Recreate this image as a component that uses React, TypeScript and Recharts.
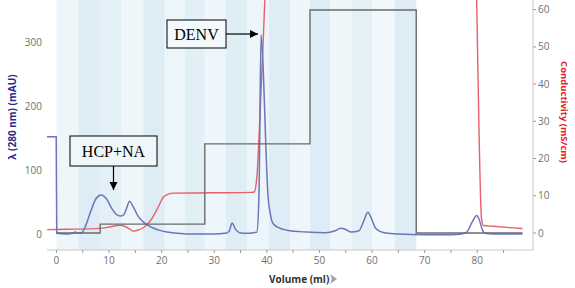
import React from 'react';
import { ComposedChart, Line, XAxis, YAxis, ReferenceArea } from 'recharts';

// UV trace at 280 nm (mAU) against elution volume (ml)
const uvVolume = [
  -1.8, -0.05, 0.05, 2, 3, 3.6, 4.2, 4.8, 5.5, 6.5, 7.5, 8.5, 9.5, 10.5, 11.5, 12.3, 12.8,
  13.4, 13.9, 14.5, 15.5, 16.5, 17.5, 18.5, 19.5, 21, 23, 25, 28, 30, 32, 32.8, 33.4, 34,
  34.8, 36, 37.5, 38.1, 38.5, 38.9, 39.3, 39.8, 40.2, 40.7, 41.2, 42.5, 43.8, 47.6, 51, 53,
  54, 55, 56, 57.5, 58.5, 59.2, 59.8, 60.6, 61.5, 63, 65, 70, 75, 77, 78, 79, 79.9, 80.4,
  81, 81.5, 83, 88.6,
];
const uvMau = [
  152, 152, 1, 0, 1, 3, 1, 2, 12, 35, 55, 61, 55, 40, 30, 28, 30,
  42, 51, 44, 28, 19, 13, 9, 6, 3, 1, 0, 0, 0, 1, 4, 17, 8,
  2, 1, 2, 3, 60, 311, 260, 140, 62, 30, 16, 9, 6, 3, 2, 5,
  9, 7, 3, 5, 22, 34, 26, 10, 4, 1, 0, -1, -1, 0, 3, 18, 29, 22,
  6, 1, 0, 0,
];

// Conductivity (mS/cm)
const condVolume = [
  -1.8, 2, 6, 8.5, 10, 12, 13, 14, 14.6, 15.5, 16.5, 17.3, 18.3, 19, 19.7, 20.3, 21.2,
  22.2, 30, 37, 37.6, 37.9, 38.2, 38.45, 38.8, 39.2, 39.6, 40, 41, 79.5, 79.9, 80.3, 80.8,
  81.2, 83, 88.6,
];
const condMs = [
  0.9, 1, 1.1, 1.3, 1.6, 2.1, 1.8, 1, 0.5, 0.8, 1.4, 2.4, 4.2, 6, 8, 9.6, 10.4,
  10.7, 10.8, 10.9, 11, 12.5, 17, 24, 35, 48, 62, 75, 90, 90, 62, 30, 4,
  2, 1.8, 1.2,
];

// Step gradient, % buffer B
const gradVolume = [0, 8.3, 28.2, 48.2, 68.4, 88.6];
const gradPercentB = [0, 4, 40, 100, 0, 0];

// Fraction bands behind the traces
const fractionEdges = [
  0, 4.2, 8.3, 12.4, 16.5, 20.6, 24.4, 28.2, 32.2, 36.3, 40.4, 44.4, 48.2, 52.1, 56.2, 60.1,
  64.3, 68.4,
];
const fractionShade = [
  '#eef6fa', '#deedf5', '#e3f0f6', '#eef6fa', '#deedf5', '#ecf5f9', '#e1eff6', '#edf6fa',
  '#dfeef5', '#ecf5fa', '#deedf5', '#eef6fa', '#deedf5', '#eef6fa', '#e3f0f6', '#f1f8fb',
  '#deedf5',
];

const volumeTicks = [0, 5, 10, 15, 20, 25, 30, 35, 40, 45, 50, 55, 60, 65, 70, 75, 80, 85];
const uvTicks = [0, 50, 100, 150, 200, 250, 300, 350];
const condTicks = [0, 5, 10, 15, 20, 25, 30, 35, 40, 45, 50, 55, 60];

const pairs = (xs: number[], ys: number[]) => xs.map((x, i) => ({ x, y: ys[i] }));
const uvData = pairs(uvVolume, uvMau);
const condData = pairs(condVolume, condMs);
const gradData = pairs(gradVolume, gradPercentB);

const tickFont = { fontFamily: 'Open Sans, sans-serif', fontSize: 10, fill: '#707070' };

// volume ticks: label every 10 ml, minor ticks in between stay bare
const VolumeTick = (props: any) => {
  const { x, y, payload } = props;
  if (payload.value % 10 !== 0) return <g />;
  return (
    <text x={x} y={y} dy="0.71em" textAnchor="middle" {...tickFont}>
      {payload.value}
    </text>
  );
};

// y ticks are placed from the axis side, labels only on major steps
const sideTick = (step: number, textX: number, anchor: 'start' | 'end') => (props: any) => {
  const { y, payload } = props;
  if (payload.value % step !== 0) return <g />;
  return (
    <text x={textX} y={y} dy="0.355em" textAnchor={anchor} {...tickFont}>
      {payload.value}
    </text>
  );
};

export default function App() {
  return (
    <div style={{ position: 'absolute', left: 0, top: 0, width: 575, height: 288, background: '#fff' }}>
      <ComposedChart width={575} height={288} margin={{ top: 0, right: 0, bottom: 0, left: 0 }}>
        <XAxis
          xAxisId="v"
          dataKey="x"
          type="number"
          domain={[-1.8, 90.6]}
          allowDataOverflow
          ticks={volumeTicks}
          height={38}
          tickSize={3}
          tickMargin={4}
          stroke="#c8c8c8"
          tickLine={{ stroke: '#999' }}
          tick={VolumeTick}
        />
        <YAxis
          yAxisId="uv"
          orientation="left"
          type="number"
          domain={[-25, 365.6]}
          allowDataOverflow
          ticks={uvTicks}
          width={47}
          tickSize={3}
          stroke="#c8c8c8"
          tickLine={{ stroke: '#999' }}
          tick={sideTick(100, 42, 'end')}
        />
        <YAxis
          yAxisId="cond"
          orientation="right"
          type="number"
          domain={[-4.57, 62.6]}
          allowDataOverflow
          ticks={condTicks}
          width={42}
          tickSize={3}
          stroke="#c8c8c8"
          tickLine={{ stroke: '#999' }}
          tick={sideTick(10, 538, 'start')}
        />
        <YAxis yAxisId="grad" hide type="number" domain={[-7.6, 104.5]} allowDataOverflow />

        {fractionShade.map((fill, i) => (
          <ReferenceArea
            key={i}
            xAxisId="v"
            yAxisId="uv"
            x1={fractionEdges[i]}
            x2={fractionEdges[i + 1]}
            fill={fill}
            fillOpacity={1}
            stroke="none"
          />
        ))}

        <Line
          xAxisId="v"
          yAxisId="cond"
          data={condData}
          dataKey="y"
          type="monotone"
          stroke="#e8606c"
          strokeWidth={1.4}
          dot={false}
          isAnimationActive={false}
        />
        <Line
          xAxisId="v"
          yAxisId="uv"
          data={uvData}
          dataKey="y"
          type="monotone"
          stroke="#6a76b8"
          strokeWidth={1.5}
          dot={false}
          isAnimationActive={false}
        />
        <Line
          xAxisId="v"
          yAxisId="grad"
          data={gradData}
          dataKey="y"
          type="stepAfter"
          stroke="#6b6b6b"
          strokeWidth={1.4}
          dot={false}
          isAnimationActive={false}
        />
      </ComposedChart>

      <svg
        width={575}
        height={288}
        style={{ position: 'absolute', left: 0, top: 0, pointerEvents: 'none' }}
      >
        <defs>
          <marker id="head" viewBox="0 0 10 10" refX="10" refY="5" markerWidth="7" markerHeight="7" orient="auto">
            <path d="M0,0 L10,5 L0,10 z" fill="#000" />
          </marker>
        </defs>

        {/* axis titles */}
        <text
          transform="translate(16,117) rotate(-90)"
          textAnchor="middle"
          fontFamily="Open Sans, sans-serif"
          fontWeight={700}
          fontSize={10}
          fill="#2b2b8c"
        >
          λ (280 nm) (mAU)
        </text>
        <text
          transform="translate(561,112) rotate(90)"
          textAnchor="middle"
          fontFamily="Open Sans, sans-serif"
          fontWeight={700}
          fontSize={9.5}
          fill="#e3202b"
        >
          Conductivity (mS/cm)
        </text>
        <text x={269} y={283} fontFamily="Open Sans, sans-serif" fontWeight={700} fontSize={10} fill="#333">
          Volume (ml)
        </text>
        <path d="M330,274 L337,279 L330,284 L332,279 z" fill="#a0a0a0" />

        {/* peak annotations */}
        <rect x={167} y={20} width={59} height={28} fill="#f3f9fc" stroke="#000" strokeWidth={1} />
        <text x={196.5} y={40} textAnchor="middle" fontFamily="Liberation Serif, serif" fontSize={16} fill="#000">
          DENV
        </text>
        <line x1={226} y1={34} x2={258} y2={34} stroke="#000" strokeWidth={1.2} markerEnd="url(#head)" />

        <rect x={70} y={136} width={87} height={30} fill="#f0f7fb" stroke="#000" strokeWidth={1} />
        <text x={113.5} y={157} textAnchor="middle" fontFamily="Liberation Serif, serif" fontSize={16} fill="#000">
          HCP+NA
        </text>
        <line x1={113.5} y1={166} x2={113.5} y2={190} stroke="#000" strokeWidth={1.2} markerEnd="url(#head)" />
      </svg>
    </div>
  );
}
